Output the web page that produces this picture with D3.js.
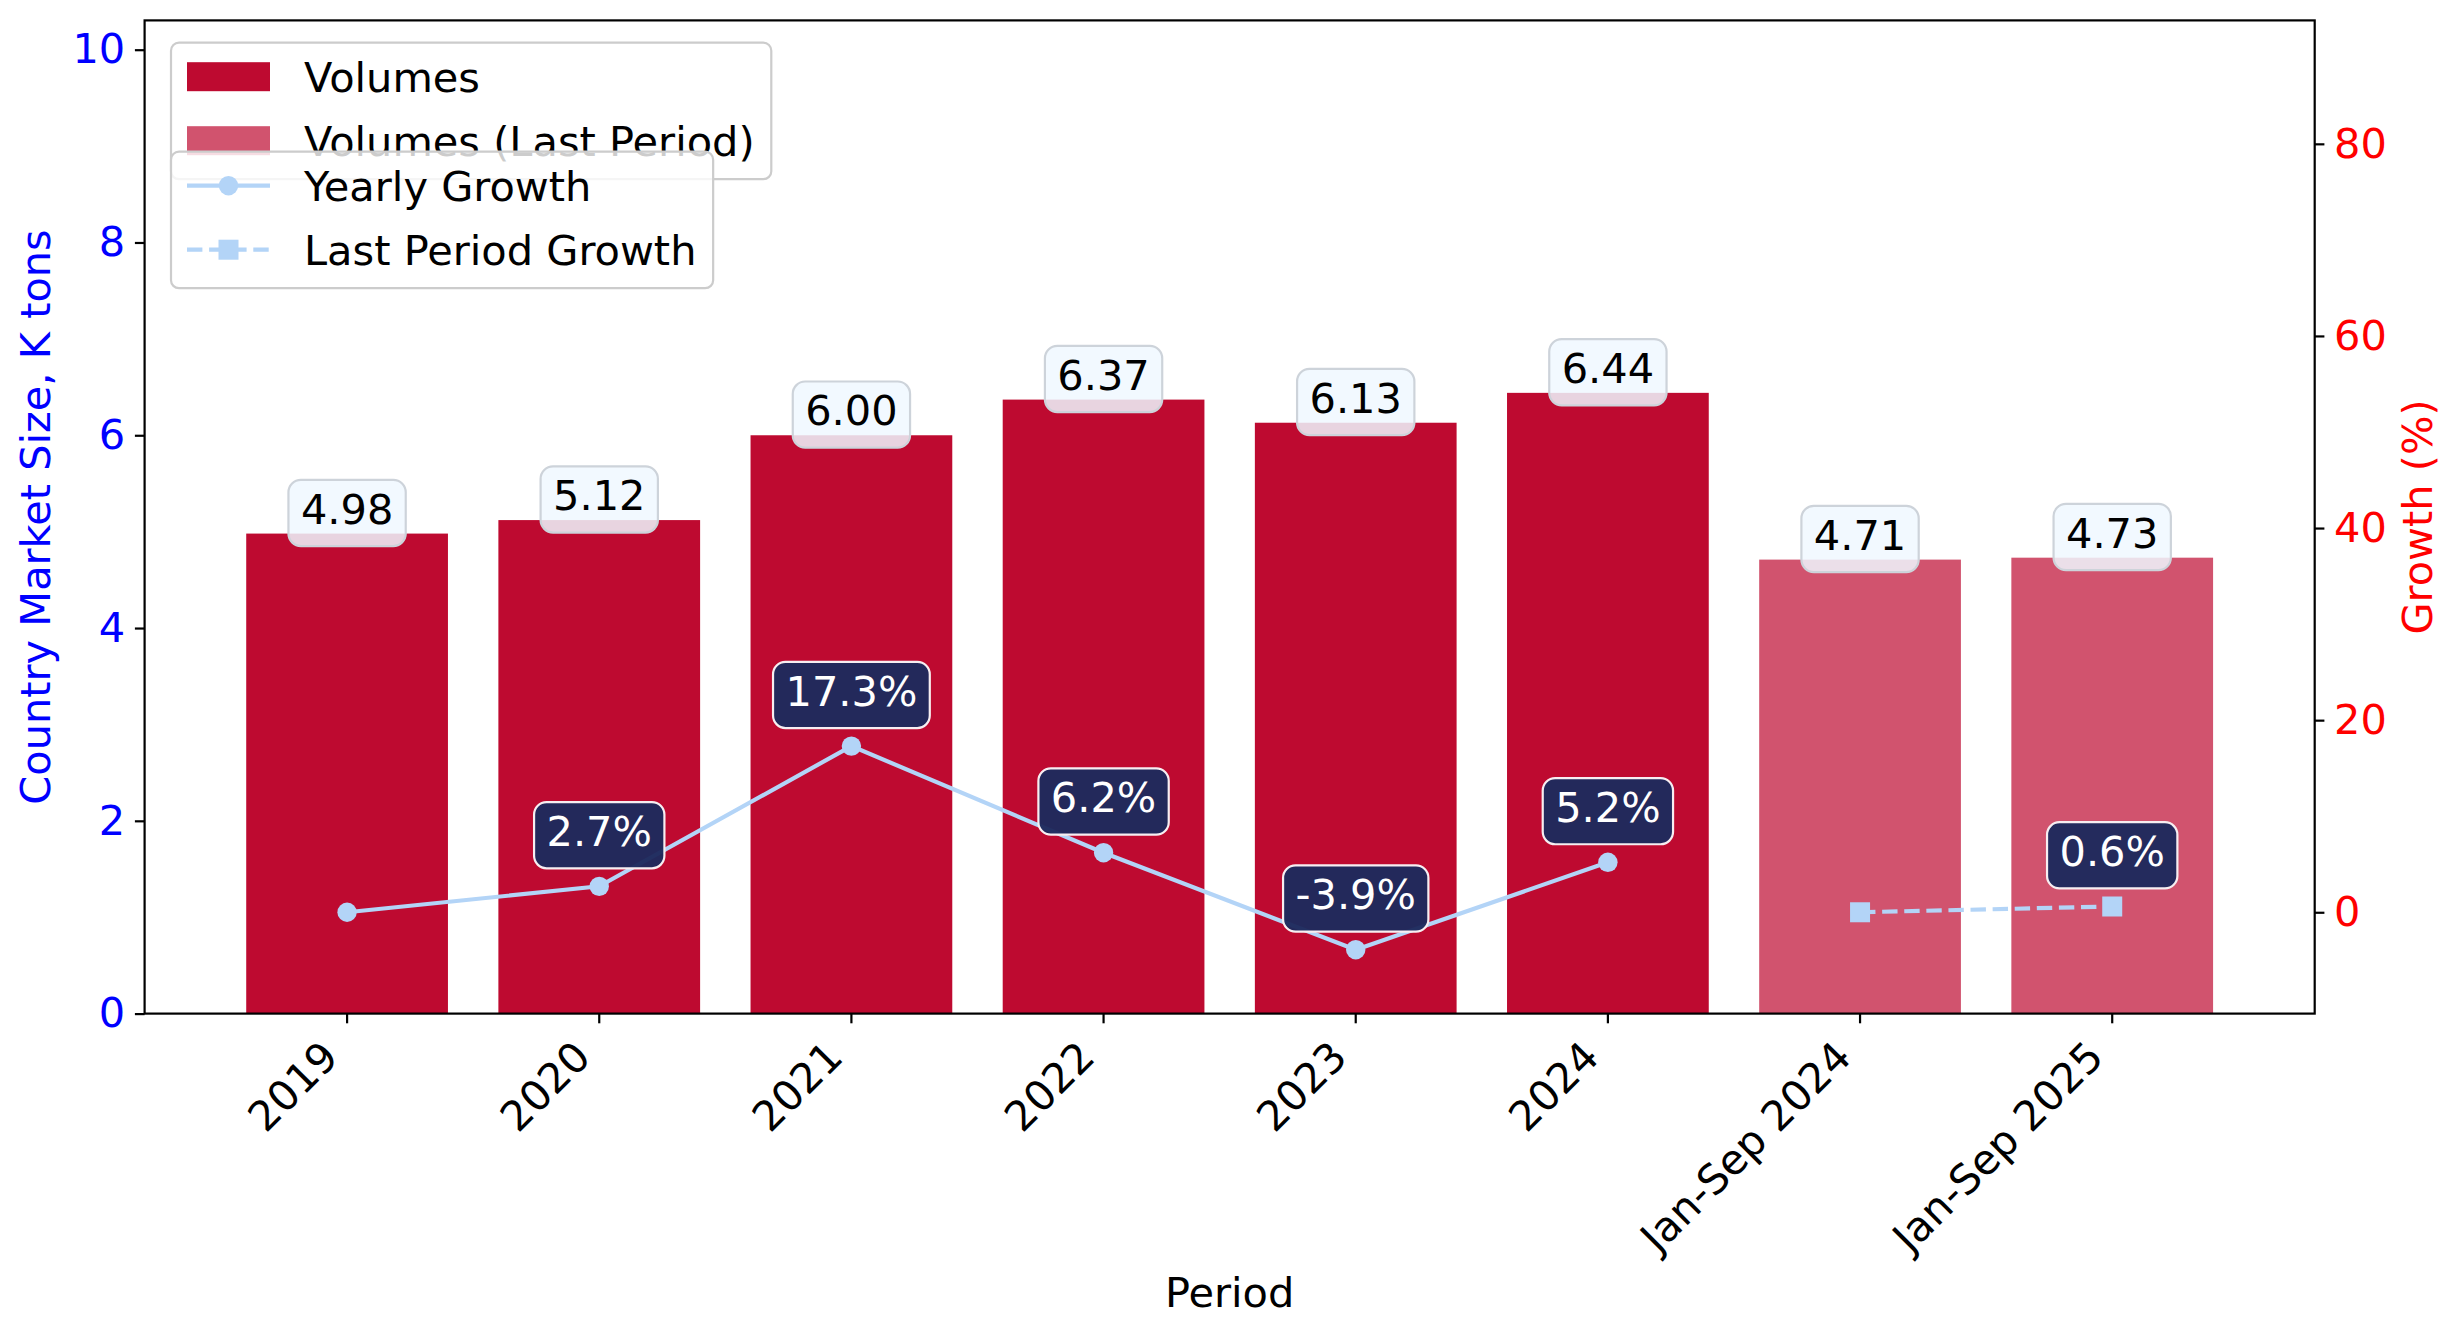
<!DOCTYPE html>
<html>
<head>
<meta charset="utf-8">
<script src="https://cdn.jsdelivr.net/npm/d3@7"></script>
<style>
  body { margin: 0; background: #fff; }
  svg { display: block; font-family: "DejaVu Sans", sans-serif; }
</style>
</head>
<body>
<svg width="2464" height="1336"></svg>
<script>
const categories = ['2019', '2020', '2021', '2022', '2023', '2024', 'Jan-Sep 2024', 'Jan-Sep 2025'];
const volumes = [4.98, 5.12, 6.00, 6.37, 6.13, 6.44, 4.71, 4.73];
const lastPeriods = ['Jan-Sep 2024', 'Jan-Sep 2025'];
const yearlyPeriods = ['2019', '2020', '2021', '2022', '2023', '2024'];
const yearlyGrowth = [0, 2.7, 17.3, 6.2, -3.9, 5.2];
const lastGrowth = [0, 0.6];
const leftTicks = [0, 2, 4, 6, 8, 10];
const rightTicks = [0, 20, 40, 60, 80];

const barColor = '#be0a30';
const lineColor = '#b3d4f7';
const fs = 41.5;
const pad = 0.3 * fs;

const svg = d3.select('svg');
const width = +svg.attr('width');
const height = +svg.attr('height');
const margin = { left: 144.6, right: 149.3, top: 20.4, bottom: 322.4 };
const innerWidth = width - margin.left - margin.right;
const innerHeight = height - margin.top - margin.bottom;

const g = svg.append('g')
    .attr('transform', `translate(${margin.left},${margin.top})`);

const xScale = d3.scaleBand()
    .domain(categories)
    .range([0, innerWidth])
    .paddingInner(0.2)
    .paddingOuter(0.403);
const yScale = d3.scaleLinear().domain([0, 10.304]).range([innerHeight, 0]);
const y2Scale = d3.scaleLinear().domain([-10.55, 92.85]).range([innerHeight, 0]);
const cx = d => xScale(d) + xScale.bandwidth() / 2;

// bars
g.selectAll('rect.bar')
    .data(categories.map((c, i) => ({ c, v: volumes[i], last: lastPeriods.includes(c) })))
    .enter().append('rect')
    .attr('class', 'bar')
    .attr('x', d => xScale(d.c))
    .attr('width', xScale.bandwidth())
    .attr('y', d => yScale(d.v))
    .attr('height', d => innerHeight - yScale(d.v))
    .attr('fill', barColor)
    .attr('fill-opacity', d => d.last ? 0.7 : 1);

// growth lines
const yearly = yearlyPeriods.map((c, i) => ({ c, v: yearlyGrowth[i] }));
const last = lastPeriods.map((c, i) => ({ c, v: lastGrowth[i] }));
const line = d3.line()
    .x(d => cx(d.c))
    .y(d => y2Scale(d.v));

g.append('path')
    .attr('fill', 'none')
    .attr('stroke', lineColor)
    .attr('stroke-width', 4.2)
    .attr('d', line(yearly));
g.selectAll('circle.pt')
    .data(yearly)
    .enter().append('circle')
    .attr('cx', d => cx(d.c))
    .attr('cy', d => y2Scale(d.v))
    .attr('r', 9.7)
    .attr('fill', lineColor);

g.append('path')
    .attr('fill', 'none')
    .attr('stroke', lineColor)
    .attr('stroke-width', 4.2)
    .attr('stroke-dasharray', '15.4,6.7')
    .attr('d', line(last));
g.selectAll('rect.sq')
    .data(last)
    .enter().append('rect')
    .attr('x', d => cx(d.c) - 10)
    .attr('y', d => y2Scale(d.v) - 10)
    .attr('width', 20)
    .attr('height', 20)
    .attr('fill', lineColor);

// labelled box helper
function boxLabel(x, baseline, text, fill, opacity, stroke, textColor) {
    const lg = g.append('g');
    const rect = lg.append('rect');
    const t = lg.append('text')
        .attr('x', x)
        .attr('y', baseline)
        .attr('text-anchor', 'middle')
        .attr('font-size', fs)
        .attr('fill', textColor)
        .text(text);
    const w = t.node().getComputedTextLength();
    rect.attr('x', x - w / 2 - pad)
        .attr('y', baseline - 0.76 * fs - pad)
        .attr('width', w + 2 * pad)
        .attr('height', 0.996 * fs + 2 * pad)
        .attr('rx', pad)
        .attr('fill', fill)
        .attr('fill-opacity', opacity)
        .attr('stroke', stroke)
        .attr('stroke-width', 2.2);
}

// value labels
categories.forEach((c, i) => {
    boxLabel(cx(c), yScale(volumes[i]) - 0.236 * fs, volumes[i].toFixed(2),
        '#f0f8ff', 0.85, '#cdd3da', '#000');
});

// growth labels
const growthLabels = yearly.slice(1).concat(last.slice(1));
growthLabels.forEach(d => {
    boxLabel(cx(d.c), y2Scale(d.v) - 30.5 - 0.236 * fs, d.v.toFixed(1) + '%',
        '#1e2a5d', 0.97, '#f7eef1', '#fff');
});

// axes
const yAxisG = g.append('g')
    .call(d3.axisLeft(yScale).tickValues(leftTicks).tickSize(9.7).tickPadding(9.7).tickFormat(d3.format('d')));
const y2AxisG = g.append('g')
    .attr('transform', `translate(${innerWidth},0)`)
    .call(d3.axisRight(y2Scale).tickValues(rightTicks).tickSize(9.7).tickPadding(9.7).tickFormat(d3.format('d')));
const xAxisG = g.append('g')
    .attr('transform', `translate(0,${innerHeight})`)
    .call(d3.axisBottom(xScale).tickSize(9.7));

[yAxisG, y2AxisG, xAxisG].forEach(a => {
    a.select('.domain').remove();
    a.selectAll('.tick line').attr('stroke', '#000').attr('stroke-width', 2.2);
    a.selectAll('.tick text').attr('font-size', fs).attr('font-family', '"DejaVu Sans", sans-serif');
});
yAxisG.selectAll('.tick text').attr('fill', '#0000ff');
y2AxisG.selectAll('.tick text').attr('fill', '#ff0000');
xAxisG.selectAll('.tick text')
    .attr('fill', '#000')
    .attr('x', null).attr('y', null).attr('dy', null)
    .attr('text-anchor', 'end')
    .attr('transform', 'translate(-6.6,45.6) rotate(-45)');

// frame
g.append('rect')
    .attr('width', innerWidth)
    .attr('height', innerHeight)
    .attr('fill', 'none')
    .attr('stroke', '#000')
    .attr('stroke-width', 2.2);

// axis titles
svg.append('text')
    .attr('transform', `translate(50,${margin.top + innerHeight / 2}) rotate(-90)`)
    .attr('text-anchor', 'middle')
    .attr('font-size', fs)
    .attr('fill', '#0000ff')
    .text('Country Market Size, K tons');
svg.append('text')
    .attr('transform', `translate(2432,${margin.top + innerHeight / 2}) rotate(-90)`)
    .attr('text-anchor', 'middle')
    .attr('font-size', fs)
    .attr('fill', '#ff0000')
    .text('Growth (%)');
svg.append('text')
    .attr('x', margin.left + innerWidth / 2)
    .attr('y', 1307)
    .attr('text-anchor', 'middle')
    .attr('font-size', fs)
    .attr('fill', '#000')
    .text('Period');

// legends
function legend(top, rows) {
    const lg = svg.append('g');
    const frame = lg.append('rect');
    let maxEnd = 0;
    rows.forEach((r, i) => {
        const base = top + 49 + i * 64;
        const mid = base - 15;
        if (r.type === 'patch') {
            lg.append('rect')
                .attr('x', 187).attr('y', mid - 14.5)
                .attr('width', 83).attr('height', 29)
                .attr('fill', barColor)
                .attr('fill-opacity', r.opacity);
        } else {
            lg.append('line')
                .attr('x1', 187).attr('x2', 270)
                .attr('y1', mid).attr('y2', mid)
                .attr('stroke', lineColor)
                .attr('stroke-width', 4.2)
                .attr('stroke-dasharray', r.dash ? '15.4,6.7' : null);
            if (r.marker === 'circle') {
                lg.append('circle').attr('cx', 228.5).attr('cy', mid).attr('r', 9.7).attr('fill', lineColor);
            } else {
                lg.append('rect').attr('x', 218.5).attr('y', mid - 10).attr('width', 20).attr('height', 20).attr('fill', lineColor);
            }
        }
        const t = lg.append('text')
            .attr('x', 304)
            .attr('y', base)
            .attr('font-size', fs)
            .attr('fill', '#000')
            .text(r.label);
        maxEnd = Math.max(maxEnd, 304 + t.node().getComputedTextLength());
    });
    frame.attr('x', 171).attr('y', top)
        .attr('width', maxEnd + 16.7 - 171)
        .attr('height', 136.5)
        .attr('rx', 8)
        .attr('fill', '#fff')
        .attr('fill-opacity', 0.8)
        .attr('stroke', '#cccccc')
        .attr('stroke-width', 2.2);
}
legend(42.7, [
    { type: 'patch', label: 'Volumes', opacity: 1 },
    { type: 'patch', label: 'Volumes (Last Period)', opacity: 0.7 }
]);
legend(151.7, [
    { type: 'line', label: 'Yearly Growth', marker: 'circle', dash: false },
    { type: 'line', label: 'Last Period Growth', marker: 'square', dash: true }
]);
</script>
</body>
</html>
